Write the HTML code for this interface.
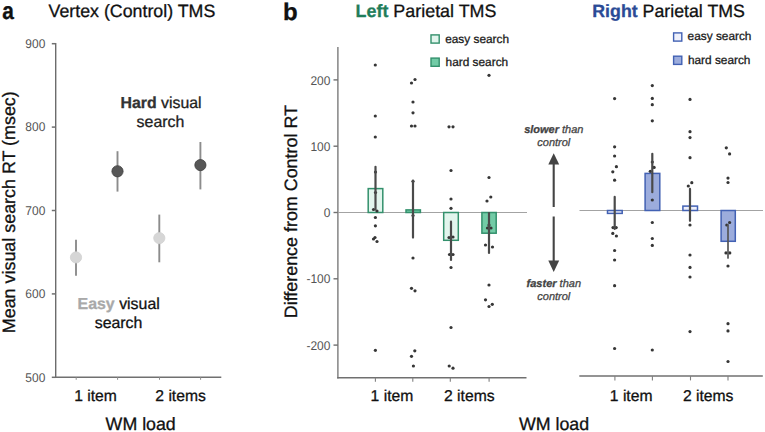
<!DOCTYPE html>
<html><head><meta charset="utf-8"><style>
html,body{margin:0;padding:0;background:#fff;}
body{width:765px;height:432px;overflow:hidden;}
svg{display:block;font-family:"Liberation Sans", sans-serif;text-rendering:geometricPrecision;}
text{stroke-width:0.3px;stroke-linejoin:round;}
</style></head><body>
<svg width="765" height="432" viewBox="0 0 765 432">
<rect width="765" height="432" fill="#fff"/>
<text transform="translate(2.2,18.9) scale(0.87,1)" font-size="24" font-weight="bold" fill="#111" stroke="#111">a</text>
<text x="48.6" y="16.8" font-size="17.8" fill="#111" stroke="#111">Vertex (Control) TMS</text>
<line x1="55.7" y1="43" x2="55.7" y2="378" stroke="#6c6c6c" stroke-width="1.4"/>
<line x1="51.8" y1="43.7" x2="55.7" y2="43.7" stroke="#707070" stroke-width="1.5"/>
<text transform="translate(45.3,48.0) scale(0.95,1)" font-size="12.6" fill="#555" stroke="none" text-anchor="end">900</text>
<line x1="51.8" y1="127.1" x2="55.7" y2="127.1" stroke="#707070" stroke-width="1.5"/>
<text transform="translate(45.3,131.4) scale(0.95,1)" font-size="12.6" fill="#555" stroke="none" text-anchor="end">800</text>
<line x1="51.8" y1="210.5" x2="55.7" y2="210.5" stroke="#707070" stroke-width="1.5"/>
<text transform="translate(45.3,214.8) scale(0.95,1)" font-size="12.6" fill="#555" stroke="none" text-anchor="end">700</text>
<line x1="51.8" y1="293.9" x2="55.7" y2="293.9" stroke="#707070" stroke-width="1.5"/>
<text transform="translate(45.3,298.2) scale(0.95,1)" font-size="12.6" fill="#555" stroke="none" text-anchor="end">600</text>
<line x1="51.8" y1="377.3" x2="55.7" y2="377.3" stroke="#707070" stroke-width="1.5"/>
<text transform="translate(45.3,381.6) scale(0.95,1)" font-size="12.6" fill="#555" stroke="none" text-anchor="end">500</text>
<line x1="55" y1="377.3" x2="221.3" y2="377.3" stroke="#707070" stroke-width="1.6"/>
<line x1="76.2" y1="377.3" x2="76.2" y2="379.8" stroke="#909090" stroke-width="1"/>
<line x1="117.6" y1="377.3" x2="117.6" y2="379.8" stroke="#909090" stroke-width="1"/>
<line x1="159.5" y1="377.3" x2="159.5" y2="379.8" stroke="#909090" stroke-width="1"/>
<line x1="200.6" y1="377.3" x2="200.6" y2="379.8" stroke="#909090" stroke-width="1"/>
<text transform="translate(15.2,333.2) rotate(-90)" font-size="17.9" fill="#111" stroke="#111">Mean visual search RT (msec)</text>
<text x="74.2" y="400.9" font-size="15.7" fill="#111" stroke="#111">1 item</text>
<text x="155.3" y="400.9" font-size="15.7" fill="#111" stroke="#111">2 items</text>
<text x="105.6" y="429.6" font-size="17.8" fill="#111" stroke="#111">WM load</text>
<text x="120.5" y="107.8" font-size="15.85" fill="#222" stroke="#222"><tspan font-weight="bold" fill="#333" stroke="#333">Hard</tspan> visual</text>
<text x="136.6" y="126.9" font-size="15.9" fill="#222" stroke="#222">search</text>
<text x="77.6" y="308.9" font-size="15.9" fill="#111" stroke="#111"><tspan font-weight="bold" fill="#a9a9a9" stroke="#a9a9a9">Easy</tspan> visual</text>
<text x="94.7" y="327.8" font-size="15.9" fill="#111" stroke="#111">search</text>
<line x1="76" y1="239.7" x2="76" y2="275.7" stroke="#8c8c8c" stroke-width="1.9"/>
<circle cx="76" cy="257.4" r="5.6" fill="#d6d6d6" stroke="#d0d0d0" stroke-width="0.8"/>
<line x1="159.3" y1="214.6" x2="159.3" y2="262.3" stroke="#8c8c8c" stroke-width="1.9"/>
<circle cx="159.3" cy="238.1" r="5.6" fill="#d6d6d6" stroke="#d0d0d0" stroke-width="0.8"/>
<line x1="117.5" y1="151.2" x2="117.5" y2="191.6" stroke="#8c8c8c" stroke-width="1.9"/>
<circle cx="117.5" cy="171.3" r="5.6" fill="#575757" stroke="#3c3c3c" stroke-width="0.8"/>
<line x1="200.4" y1="142" x2="200.4" y2="189.4" stroke="#8c8c8c" stroke-width="1.9"/>
<circle cx="200.4" cy="165.1" r="5.6" fill="#575757" stroke="#3c3c3c" stroke-width="0.8"/>
<text x="282.9" y="19.5" font-size="24" font-weight="bold" fill="#111" stroke="#111">b</text>
<text x="355.6" y="16.8" font-size="17.9" fill="#111" stroke="#111"><tspan font-weight="bold" fill="#1f7d5a" stroke="#1f7d5a">Left</tspan> Parietal TMS</text>
<text x="592.3" y="16.8" font-size="17.75" fill="#111" stroke="#111"><tspan font-weight="bold" fill="#2a4a96" stroke="#2a4a96">Right</tspan> Parietal TMS</text>
<text transform="translate(296.6,318.2) rotate(-90)" font-size="17.9" fill="#111" stroke="#111">Difference from Control RT</text>
<line x1="337.9" y1="46.9" x2="337.9" y2="378.4" stroke="#707070" stroke-width="1.3"/>
<line x1="333.5" y1="79.9" x2="337.9" y2="79.9" stroke="#707070" stroke-width="1.4"/>
<text transform="translate(330.4,84.5) scale(0.95,1)" font-size="12.6" fill="#555" stroke="none" text-anchor="end">200</text>
<line x1="333.5" y1="146.2" x2="337.9" y2="146.2" stroke="#707070" stroke-width="1.4"/>
<text transform="translate(330.4,150.79999999999998) scale(0.95,1)" font-size="12.6" fill="#555" stroke="none" text-anchor="end">100</text>
<line x1="333.5" y1="212.5" x2="337.9" y2="212.5" stroke="#707070" stroke-width="1.4"/>
<text transform="translate(330.4,217.1) scale(0.95,1)" font-size="12.6" fill="#555" stroke="none" text-anchor="end">0</text>
<line x1="333.5" y1="278.8" x2="337.9" y2="278.8" stroke="#707070" stroke-width="1.4"/>
<text transform="translate(330.4,283.40000000000003) scale(0.95,1)" font-size="12.6" fill="#555" stroke="none" text-anchor="end">-100</text>
<line x1="333.5" y1="345.1" x2="337.9" y2="345.1" stroke="#707070" stroke-width="1.4"/>
<text transform="translate(330.4,349.70000000000005) scale(0.95,1)" font-size="12.6" fill="#555" stroke="none" text-anchor="end">-200</text>
<line x1="337.9" y1="212.5" x2="527" y2="212.5" stroke="#a3a3a3" stroke-width="1"/>
<line x1="579.5" y1="210.5" x2="763" y2="210.5" stroke="#a3a3a3" stroke-width="1"/>
<line x1="337.2" y1="377.7" x2="526.5" y2="377.7" stroke="#707070" stroke-width="1.5"/>
<line x1="579.3" y1="376" x2="762.8" y2="376" stroke="#707070" stroke-width="1.5"/>
<line x1="375.4" y1="377.7" x2="375.4" y2="381.8" stroke="#808080" stroke-width="1.1"/>
<line x1="412.8" y1="377.7" x2="412.8" y2="381.8" stroke="#808080" stroke-width="1.1"/>
<line x1="450.3" y1="377.7" x2="450.3" y2="381.8" stroke="#808080" stroke-width="1.1"/>
<line x1="489.1" y1="377.7" x2="489.1" y2="381.8" stroke="#808080" stroke-width="1.1"/>
<line x1="614.9" y1="376" x2="614.9" y2="380.4" stroke="#808080" stroke-width="1.1"/>
<line x1="652.4" y1="376" x2="652.4" y2="380.4" stroke="#808080" stroke-width="1.1"/>
<line x1="690.5" y1="376" x2="690.5" y2="380.4" stroke="#808080" stroke-width="1.1"/>
<line x1="728" y1="376" x2="728" y2="380.4" stroke="#808080" stroke-width="1.1"/>
<text x="370.6" y="400.9" font-size="15.7" fill="#111" stroke="#111">1 item</text>
<text x="444" y="400.9" font-size="15.7" fill="#111" stroke="#111">2 items</text>
<text x="609.8" y="400.8" font-size="15.7" fill="#111" stroke="#111">1 item</text>
<text x="682.9" y="400.8" font-size="15.7" fill="#111" stroke="#111">2 items</text>
<text x="519" y="429.5" font-size="17.8" fill="#111" stroke="#111">WM load</text>
<rect x="431" y="34.9" width="8.2" height="8.2" fill="#e2f5ed" stroke="#33906c" stroke-width="1.4"/>
<rect x="431" y="58.1" width="8.2" height="8.2" fill="#72cba6" stroke="#33906c" stroke-width="1.4"/>
<text x="445.2" y="42.6" font-size="11.85" fill="#1a1a1a" stroke="#1a1a1a">easy search</text>
<text x="445.6" y="66.2" font-size="11.85" fill="#1a1a1a" stroke="#1a1a1a">hard search</text>
<rect x="673.6" y="32.9" width="8.2" height="8.2" fill="#eef0fb" stroke="#4261b3" stroke-width="1.4"/>
<rect x="673.6" y="56.2" width="8.2" height="8.2" fill="#9cacdc" stroke="#4261b3" stroke-width="1.4"/>
<text x="687.6" y="40" font-size="11.85" fill="#1a1a1a" stroke="#1a1a1a">easy search</text>
<text x="687.9" y="63.7" font-size="11.85" fill="#1a1a1a" stroke="#1a1a1a">hard search</text>
<text x="553.8" y="132.6" font-size="11" fill="#444" text-anchor="middle" font-style="italic" stroke="#444"><tspan font-weight="bold">slower</tspan> than</text>
<text x="553.8" y="145.7" font-size="11" fill="#444" text-anchor="middle" font-style="italic" stroke="#444">control</text>
<line x1="553.7" y1="163" x2="553.7" y2="207" stroke="#444" stroke-width="2.1"/>
<polygon points="553.7,153.3 548.3,164.6 559.2,164.6" fill="#444"/>
<line x1="553.7" y1="216.5" x2="553.7" y2="262" stroke="#444" stroke-width="2.1"/>
<polygon points="553.7,271.9 548.3,260.6 559.2,260.6" fill="#444"/>
<text x="553.8" y="287" font-size="11" fill="#444" text-anchor="middle" font-style="italic" stroke="#444"><tspan font-weight="bold">faster</tspan> than</text>
<text x="553.8" y="300.2" font-size="11" fill="#444" text-anchor="middle" font-style="italic" stroke="#444">control</text>
<rect x="368.2" y="188.6" width="14.600000000000023" height="23.900000000000006" fill="#e2f5ed" stroke="#33906c" stroke-width="1.5"/>
<rect x="406.0" y="209.9" width="14.399999999999977" height="2.5999999999999943" fill="#72cba6" stroke="#33906c" stroke-width="1.5"/>
<rect x="443.7" y="212.5" width="14.600000000000023" height="27.80000000000001" fill="#e2f5ed" stroke="#33906c" stroke-width="1.5"/>
<rect x="481.9" y="212.5" width="14.300000000000011" height="20.69999999999999" fill="#72cba6" stroke="#33906c" stroke-width="1.5"/>
<rect x="607.5" y="210.5" width="14.700000000000045" height="2.9000000000000057" fill="#eef0fb" stroke="#4261b3" stroke-width="1.5"/>
<rect x="645.1" y="173.4" width="14.699999999999932" height="37.099999999999994" fill="#9cacdc" stroke="#4261b3" stroke-width="1.5"/>
<rect x="682.9" y="206.1" width="14.600000000000023" height="4.400000000000006" fill="#eef0fb" stroke="#4261b3" stroke-width="1.5"/>
<rect x="721.1" y="210.5" width="14.199999999999932" height="30.80000000000001" fill="#9cacdc" stroke="#4261b3" stroke-width="1.5"/>
<circle cx="375.3" cy="65" r="1.6" fill="#363636"/>
<circle cx="375.3" cy="116" r="1.6" fill="#363636"/>
<circle cx="375.3" cy="137" r="1.6" fill="#363636"/>
<circle cx="375.5" cy="172" r="1.6" fill="#363636"/>
<circle cx="375.5" cy="192.5" r="1.6" fill="#363636"/>
<circle cx="373.5" cy="209.5" r="1.6" fill="#363636"/>
<circle cx="377" cy="211" r="1.6" fill="#363636"/>
<circle cx="375.4" cy="217.5" r="1.6" fill="#363636"/>
<circle cx="375.4" cy="225.8" r="1.6" fill="#363636"/>
<circle cx="375" cy="237.5" r="1.6" fill="#363636"/>
<circle cx="373.5" cy="239" r="1.6" fill="#363636"/>
<circle cx="377" cy="241.5" r="1.6" fill="#363636"/>
<circle cx="375.4" cy="350.3" r="1.6" fill="#363636"/>
<circle cx="415" cy="79.5" r="1.6" fill="#363636"/>
<circle cx="411.5" cy="83" r="1.6" fill="#363636"/>
<circle cx="413" cy="102" r="1.6" fill="#363636"/>
<circle cx="413" cy="112.8" r="1.6" fill="#363636"/>
<circle cx="411.5" cy="126" r="1.6" fill="#363636"/>
<circle cx="415" cy="126" r="1.6" fill="#363636"/>
<circle cx="413" cy="215.5" r="1.6" fill="#363636"/>
<circle cx="413" cy="181.3" r="1.6" fill="#363636"/>
<circle cx="413" cy="258" r="1.6" fill="#363636"/>
<circle cx="411.5" cy="288.3" r="1.6" fill="#363636"/>
<circle cx="415" cy="290.8" r="1.6" fill="#363636"/>
<circle cx="414.8" cy="350.8" r="1.6" fill="#363636"/>
<circle cx="411.5" cy="356.3" r="1.6" fill="#363636"/>
<circle cx="413.4" cy="366" r="1.6" fill="#363636"/>
<circle cx="449" cy="126.8" r="1.6" fill="#363636"/>
<circle cx="453" cy="126.8" r="1.6" fill="#363636"/>
<circle cx="451" cy="170.5" r="1.6" fill="#363636"/>
<circle cx="451" cy="199" r="1.6" fill="#363636"/>
<circle cx="451" cy="208.3" r="1.6" fill="#363636"/>
<circle cx="449" cy="237.5" r="1.6" fill="#363636"/>
<circle cx="453" cy="237" r="1.6" fill="#363636"/>
<circle cx="449.5" cy="254.5" r="1.6" fill="#363636"/>
<circle cx="453" cy="254.5" r="1.6" fill="#363636"/>
<circle cx="451" cy="267.5" r="1.6" fill="#363636"/>
<circle cx="451" cy="327.5" r="1.6" fill="#363636"/>
<circle cx="449.2" cy="366" r="1.6" fill="#363636"/>
<circle cx="453" cy="368.2" r="1.6" fill="#363636"/>
<circle cx="489" cy="75.3" r="1.6" fill="#363636"/>
<circle cx="489" cy="177.5" r="1.6" fill="#363636"/>
<circle cx="490.8" cy="197" r="1.6" fill="#363636"/>
<circle cx="487" cy="201" r="1.6" fill="#363636"/>
<circle cx="489" cy="225" r="1.6" fill="#363636"/>
<circle cx="487.5" cy="228" r="1.6" fill="#363636"/>
<circle cx="491" cy="228" r="1.6" fill="#363636"/>
<circle cx="485.5" cy="245" r="1.6" fill="#363636"/>
<circle cx="492.5" cy="247" r="1.6" fill="#363636"/>
<circle cx="489" cy="285" r="1.6" fill="#363636"/>
<circle cx="485.5" cy="299.8" r="1.6" fill="#363636"/>
<circle cx="492.3" cy="304.3" r="1.6" fill="#363636"/>
<circle cx="489" cy="306.5" r="1.6" fill="#363636"/>
<circle cx="614.6" cy="98.6" r="1.6" fill="#363636"/>
<circle cx="614.6" cy="146.8" r="1.6" fill="#363636"/>
<circle cx="614.6" cy="156" r="1.6" fill="#363636"/>
<circle cx="616.4" cy="166.7" r="1.6" fill="#363636"/>
<circle cx="612.8" cy="171.8" r="1.6" fill="#363636"/>
<circle cx="614.6" cy="180.2" r="1.6" fill="#363636"/>
<circle cx="613" cy="227.6" r="1.6" fill="#363636"/>
<circle cx="616.2" cy="227.6" r="1.6" fill="#363636"/>
<circle cx="612.8" cy="233.4" r="1.6" fill="#363636"/>
<circle cx="616.4" cy="236" r="1.6" fill="#363636"/>
<circle cx="614.6" cy="250.5" r="1.6" fill="#363636"/>
<circle cx="614.6" cy="260" r="1.6" fill="#363636"/>
<circle cx="614.6" cy="285.7" r="1.6" fill="#363636"/>
<circle cx="614.6" cy="348.5" r="1.6" fill="#363636"/>
<circle cx="652.3" cy="85.6" r="1.6" fill="#363636"/>
<circle cx="652.3" cy="98.4" r="1.6" fill="#363636"/>
<circle cx="652.3" cy="104.7" r="1.6" fill="#363636"/>
<circle cx="652.3" cy="120.8" r="1.6" fill="#363636"/>
<circle cx="652.3" cy="162" r="1.6" fill="#363636"/>
<circle cx="654.1" cy="167.4" r="1.6" fill="#363636"/>
<circle cx="650.3" cy="171.3" r="1.6" fill="#363636"/>
<circle cx="652.3" cy="200" r="1.6" fill="#363636"/>
<circle cx="652.3" cy="222.5" r="1.6" fill="#363636"/>
<circle cx="652.3" cy="238.5" r="1.6" fill="#363636"/>
<circle cx="652.3" cy="245.4" r="1.6" fill="#363636"/>
<circle cx="652.3" cy="350" r="1.6" fill="#363636"/>
<circle cx="690" cy="99.4" r="1.6" fill="#363636"/>
<circle cx="690" cy="131.7" r="1.6" fill="#363636"/>
<circle cx="690" cy="137.6" r="1.6" fill="#363636"/>
<circle cx="690" cy="157.7" r="1.6" fill="#363636"/>
<circle cx="691.8" cy="182.7" r="1.6" fill="#363636"/>
<circle cx="688.3" cy="186" r="1.6" fill="#363636"/>
<circle cx="690" cy="225" r="1.6" fill="#363636"/>
<circle cx="690" cy="255" r="1.6" fill="#363636"/>
<circle cx="690" cy="267.4" r="1.6" fill="#363636"/>
<circle cx="690" cy="277" r="1.6" fill="#363636"/>
<circle cx="690" cy="331.6" r="1.6" fill="#363636"/>
<circle cx="726.3" cy="147.8" r="1.6" fill="#363636"/>
<circle cx="729.6" cy="153.9" r="1.6" fill="#363636"/>
<circle cx="728" cy="178.1" r="1.6" fill="#363636"/>
<circle cx="728" cy="182.5" r="1.6" fill="#363636"/>
<circle cx="729.6" cy="222.5" r="1.6" fill="#363636"/>
<circle cx="726.8" cy="225" r="1.6" fill="#363636"/>
<circle cx="726" cy="252.9" r="1.6" fill="#363636"/>
<circle cx="729.8" cy="252.9" r="1.6" fill="#363636"/>
<circle cx="728" cy="266" r="1.6" fill="#363636"/>
<circle cx="728" cy="323.7" r="1.6" fill="#363636"/>
<circle cx="728" cy="330.9" r="1.6" fill="#363636"/>
<circle cx="728" cy="361.5" r="1.6" fill="#363636"/>
<line x1="375.5" y1="166.8" x2="375.5" y2="209.6" stroke="#4a4a4a" stroke-width="2.2" stroke-linecap="round"/>
<line x1="413" y1="180.70000000000002" x2="413" y2="237.6" stroke="#4a4a4a" stroke-width="2.2" stroke-linecap="round"/>
<line x1="451" y1="221.70000000000002" x2="451" y2="259.90000000000003" stroke="#4a4a4a" stroke-width="2.2" stroke-linecap="round"/>
<line x1="489" y1="213.0" x2="489" y2="253.0" stroke="#4a4a4a" stroke-width="2.2" stroke-linecap="round"/>
<line x1="614.7" y1="196.9" x2="614.7" y2="228.9" stroke="#4a4a4a" stroke-width="2.2" stroke-linecap="round"/>
<line x1="652.3" y1="153.8" x2="652.3" y2="192.2" stroke="#4a4a4a" stroke-width="2.2" stroke-linecap="round"/>
<line x1="690" y1="188.9" x2="690" y2="220.79999999999998" stroke="#4a4a4a" stroke-width="2.2" stroke-linecap="round"/>
<line x1="728" y1="224.9" x2="728" y2="257.90000000000003" stroke="#555" stroke-width="1.7" stroke-linecap="round"/>
</svg>
</body></html>
